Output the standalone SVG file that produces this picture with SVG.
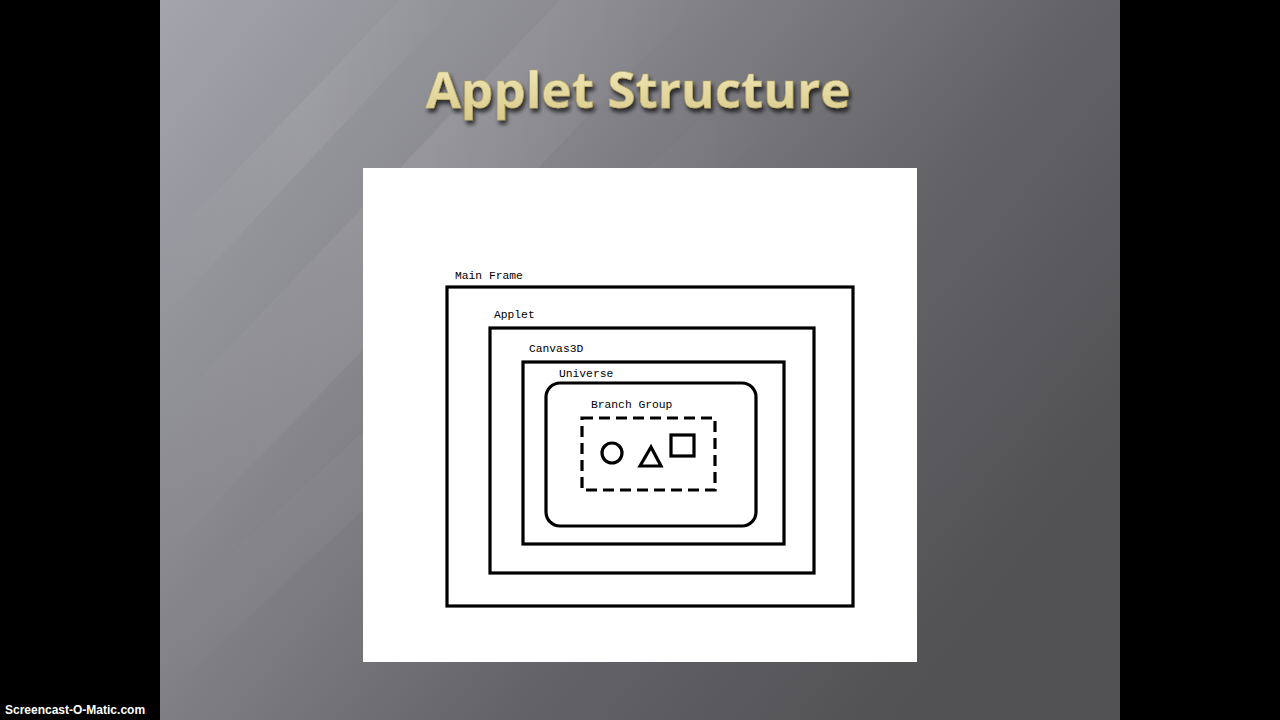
<svg xmlns="http://www.w3.org/2000/svg" width="1280" height="720" viewBox="0 0 1280 720">
<defs>
<linearGradient id="bg" x1="0" y1="0" x2="1" y2="0.6">
<stop offset="0" stop-color="#a4a4ac"/>
<stop offset="0.35" stop-color="#88888e"/>
<stop offset="0.7" stop-color="#646468"/>
<stop offset="1" stop-color="#525255"/>
</linearGradient>
<linearGradient id="streak" x1="0" y1="0" x2="1" y2="0">
<stop offset="0" stop-color="#ffffff" stop-opacity="0"/>
<stop offset="0.5" stop-color="#ffffff" stop-opacity="0.14"/>
<stop offset="1" stop-color="#ffffff" stop-opacity="0"/>
</linearGradient>
<filter id="sh" x="-10%" y="-30%" width="120%" height="160%">
<feGaussianBlur in="SourceAlpha" stdDeviation="2"/>
<feOffset dx="2" dy="4" result="b"/>
<feComponentTransfer><feFuncA type="linear" slope="0.7"/></feComponentTransfer>
<feMerge><feMergeNode/><feMergeNode in="SourceGraphic"/></feMerge>
</filter>
<linearGradient id="gold" x1="0" y1="0" x2="0" y2="1">
<stop offset="0" stop-color="#f4ecbe"/>
<stop offset="1" stop-color="#d8c888"/>
</linearGradient>
</defs>
<style>
.box{fill:none;stroke:#000;stroke-width:3.2}
.lbl{font-family:"Liberation Mono","DejaVu Sans Mono",monospace;font-size:11.3px;fill:#000}
</style>
<rect x="0" y="0" width="1280" height="720" fill="#000"/>
<g id="slide">
<rect x="160" y="0" width="960" height="720" fill="url(#bg)"/>
<polygon points="160,420 560,0 700,0 160,560" fill="url(#streak)" opacity="0.6"/>
<polygon points="160,620 700,120 780,120 160,700" fill="url(#streak)" opacity="0.4"/>
<polygon points="160,250 400,0 460,0 160,320" fill="url(#streak)" opacity="0.5"/>
</g>
<g id="title">
<text x="638" y="108" text-anchor="middle" font-family="'Open Sans',Lato,sans-serif" font-weight="bold" font-size="50" fill="url(#gold)" stroke="#b8a860" stroke-width="0.6" filter="url(#sh)" textLength="425" lengthAdjust="spacingAndGlyphs">Applet Structure</text>
</g>
<g id="panel">
<rect x="363" y="168" width="554" height="494" fill="#fff"/>
</g>
<g id="main-frame">
<rect class="box" x="447" y="287" width="406" height="319"/>
<text class="lbl" x="455" y="279">Main Frame</text>
</g>
<g id="applet">
<rect class="box" x="490" y="328" width="324" height="245"/>
<text class="lbl" x="494" y="318">Applet</text>
</g>
<g id="canvas3d">
<rect class="box" x="523" y="362" width="261" height="182"/>
<text class="lbl" x="529" y="352">Canvas3D</text>
</g>
<g id="universe">
<rect class="box" x="546" y="383" width="210" height="143" rx="14"/>
<text class="lbl" x="559" y="377">Universe</text>
</g>
<g id="branch-group">
<rect class="box" x="582" y="418" width="133" height="72" stroke-dasharray="11,6"/>
<text class="lbl" x="591" y="408">Branch Group</text>
<circle class="box" cx="612" cy="453" r="10"/>
<polygon class="box" points="640,466 651,447 661,466"/>
<rect class="box" x="671" y="435" width="23" height="21"/>
</g>
<g id="connectors"></g>
<text x="5" y="714" font-family="'Liberation Sans',Arial,sans-serif" font-weight="bold" font-size="12" fill="#fff">Screencast-O-Matic.com</text>
</svg>
